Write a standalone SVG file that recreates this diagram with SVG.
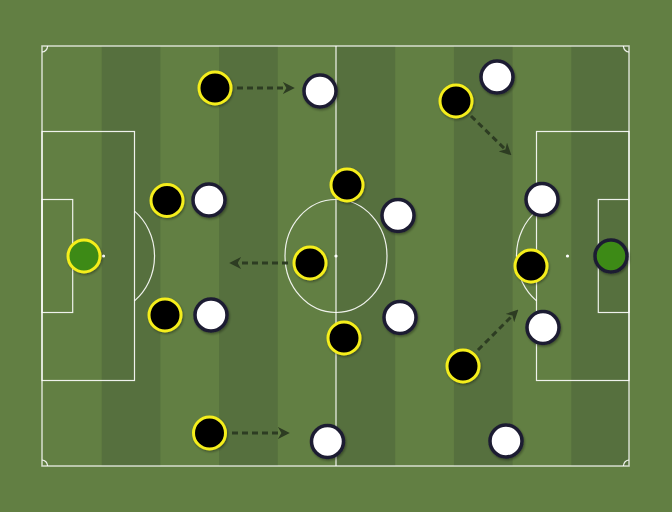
<svg xmlns="http://www.w3.org/2000/svg" width="672" height="512" viewBox="0 0 672 512">
<defs>
<style>
.ln{fill:none;stroke:#ffffff;stroke-width:1.2;stroke-opacity:0.9}
.out{fill:none;stroke:#ffffff;stroke-width:1.5;stroke-opacity:0.75}
.dk{fill:#56703e}
.b{fill:#000000;stroke:#f5ee1a;stroke-width:3}
.w{fill:#ffffff;stroke:#1f1d33;stroke-width:3.5}
.gk1{fill:#3e8a17;stroke:#f5ee1a;stroke-width:3}
.gk2{fill:#3e8a17;stroke:#1f1d33;stroke-width:3.5}
.mv{fill:none;stroke:#2d3c22;stroke-width:3;stroke-dasharray:6 4;marker-end:url(#ah)}
</style>
<marker id="ah" viewBox="0 0 10 10" refX="6" refY="5" markerWidth="4" markerHeight="4" orient="auto" markerUnits="strokeWidth">
<path d="M0,0 L10,5 L0,10 L3,5 Z" fill="#2d3c22"/>
</marker>
<filter id="sh" x="-30%" y="-30%" width="160%" height="160%">
<feDropShadow dx="1" dy="1.5" stdDeviation="1.2" flood-color="#000" flood-opacity="0.35"/>
</filter>
</defs>
<rect x="0" y="0" width="672" height="512" fill="#627f43"/>
<g id="stripes">
<rect class="dk" x="101.7" y="46" width="58.7" height="420"/>
<rect class="dk" x="219.1" y="46" width="58.7" height="420"/>
<rect class="dk" x="336.5" y="46" width="58.7" height="420"/>
<rect class="dk" x="453.9" y="46" width="58.7" height="420"/>
<rect class="dk" x="571.3" y="46" width="57.7" height="420"/>
</g>
<g id="pitch-lines">
<rect class="out" x="42" y="46" width="587" height="420"/>
<line class="ln" x1="336" y1="46" x2="336" y2="466"/>
<ellipse class="ln" cx="336" cy="256" rx="51" ry="56.5"/>
<circle cx="336" cy="256" r="1.6" fill="#ffffff"/>
<rect class="ln" x="42" y="131.5" width="92.5" height="249"/>
<rect class="ln" x="42" y="199.5" width="30.7" height="113"/>
<circle cx="103.5" cy="256" r="1.6" fill="#ffffff"/>
<path class="ln" d="M134.5,211.1 A51,56.5 0 0 1 134.5,300.9"/>
<rect class="ln" x="536.5" y="131.5" width="92.5" height="249"/>
<rect class="ln" x="598.3" y="199.5" width="30.7" height="113"/>
<circle cx="567.5" cy="256" r="1.6" fill="#ffffff"/>
<path class="ln" d="M536.5,211.1 A51,56.5 0 0 0 536.5,300.9"/>
<path class="ln" d="M42,52 A5.6,6.2 0 0 0 47.6,46"/>
<path class="ln" d="M623.4,46 A5.6,6.2 0 0 0 629,52"/>
<path class="ln" d="M42,460 A5.6,6.2 0 0 1 47.6,466"/>
<path class="ln" d="M623.4,466 A5.6,6.2 0 0 1 629,460"/>
</g>
<g id="connectors">
<line class="mv" x1="237" y1="88" x2="290" y2="88"/>
<line class="mv" x1="232" y1="433" x2="285" y2="433"/>
<line class="mv" x1="288" y1="263" x2="234" y2="263"/>
<line class="mv" x1="471" y1="116" x2="508" y2="152"/>
<line class="mv" x1="478" y1="350" x2="515" y2="313"/>
</g>
<g id="team-yellow" filter="url(#sh)">
<circle id="y-gk" class="gk1" cx="84" cy="256" r="16"/>
<circle id="y1" class="b" cx="215" cy="88" r="16"/>
<circle id="y2" class="b" cx="167" cy="200.5" r="16"/>
<circle id="y3" class="b" cx="165" cy="315" r="16"/>
<circle id="y4" class="b" cx="209.5" cy="433" r="16"/>
<circle id="y5" class="b" cx="347" cy="185" r="16"/>
<circle id="y6" class="b" cx="310" cy="263" r="16"/>
<circle id="y7" class="b" cx="344" cy="338" r="16"/>
<circle id="y8" class="b" cx="456" cy="101" r="16"/>
<circle id="y9" class="b" cx="531" cy="266" r="16"/>
<circle id="y10" class="b" cx="463" cy="366" r="16"/>
</g>
<g id="team-white" filter="url(#sh)">
<circle id="w-gk" class="gk2" cx="611" cy="256" r="16"/>
<circle id="w1" class="w" cx="320" cy="91" r="16"/>
<circle id="w2" class="w" cx="209" cy="200" r="16"/>
<circle id="w3" class="w" cx="211" cy="315" r="16"/>
<circle id="w4" class="w" cx="327.5" cy="441.5" r="16"/>
<circle id="w5" class="w" cx="398" cy="215.5" r="16"/>
<circle id="w6" class="w" cx="400" cy="317.5" r="16"/>
<circle id="w7" class="w" cx="497" cy="77" r="16"/>
<circle id="w8" class="w" cx="542" cy="199.5" r="16"/>
<circle id="w9" class="w" cx="543" cy="327.5" r="16"/>
<circle id="w10" class="w" cx="506" cy="441" r="16"/>
</g>
</svg>
